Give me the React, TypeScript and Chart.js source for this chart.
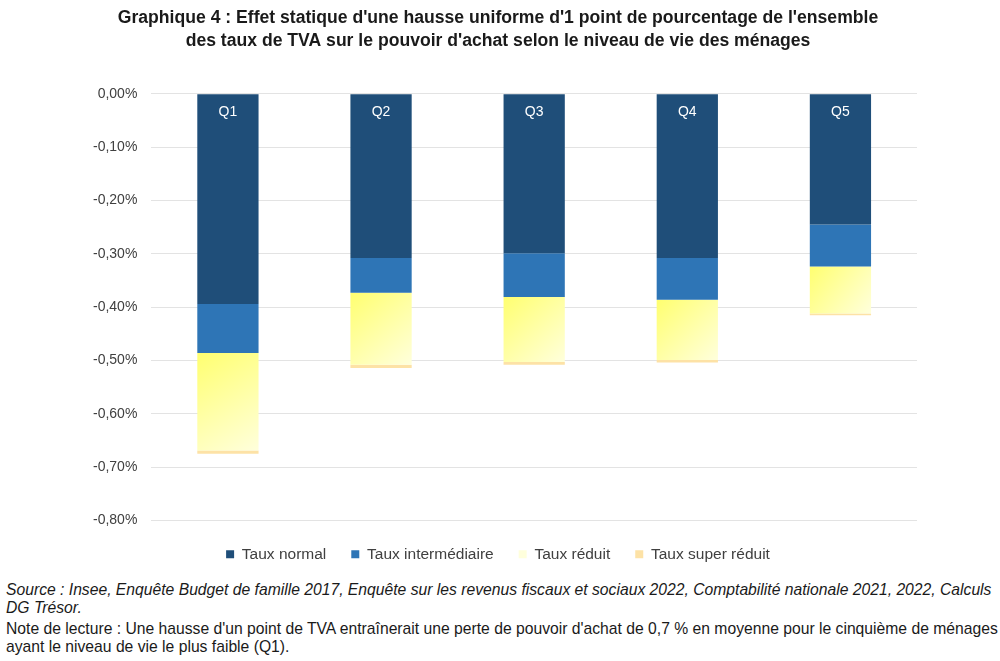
import React, { useEffect, useRef } from "react";
import { Chart, registerables } from "chart.js";

Chart.register(...registerables);

const categories = ["Q1", "Q2", "Q3", "Q4", "Q5"];
const tauxNormal = [-0.394, -0.308, -0.299, -0.308, -0.245];
const tauxIntermediaire = [-0.092, -0.065, -0.082, -0.078, -0.079];
const tauxReduit = [-0.183, -0.135, -0.122, -0.113, -0.088];
const tauxSuperReduit = [-0.006, -0.006, -0.005, -0.005, -0.003];
const yTickValues = [0, -0.1, -0.2, -0.3, -0.4, -0.5, -0.6, -0.7, -0.8];
const yTickLabels = ["0,00%", "-0,10%", "-0,20%", "-0,30%", "-0,40%", "-0,50%", "-0,60%", "-0,70%", "-0,80%"];
const seriesNames = ["Taux normal", "Taux intermédiaire", "Taux réduit", "Taux super réduit"];
const titleLines = [
  "Graphique 4 : Effet statique d'une hausse uniforme d'1 point de pourcentage de l'ensemble",
  "des taux de TVA sur le pouvoir d'achat selon le niveau de vie des ménages",
];

const FONT = "'Liberation Sans', Arial, sans-serif";

const reduitGradient = (ctx: any) => {
  const chart = ctx.chart;
  const xs = chart.scales?.x;
  const ys = chart.scales?.y;
  if (!xs || !ys || ctx.type !== "data") return "#FFFFA6";
  const i = ctx.dataIndex;
  const top = tauxNormal[i] + tauxIntermediaire[i];
  const bottom = top + tauxReduit[i];
  const cx = xs.getPixelForValue(i);
  const w = 0.4 * (xs.width / categories.length);
  const y0 = ys.getPixelForValue(top);
  const y1 = ys.getPixelForValue(bottom);
  if (!isFinite(cx) || !isFinite(y0) || !isFinite(y1)) return "#FFFFA6";
  const g = chart.ctx.createLinearGradient(cx - w / 2, y0, cx + w / 2, y1);
  g.addColorStop(0, "#FFFF70");
  g.addColorStop(1, "#FFFFDC");
  return g;
};

const qLabelsPlugin = {
  id: "qLabels",
  afterDatasetsDraw(chart: any) {
    const xs = chart.scales.x;
    const ys = chart.scales.y;
    const ctx = chart.ctx;
    ctx.save();
    ctx.fillStyle = "#FFFFFF";
    ctx.font = `14px ${FONT}`;
    ctx.textAlign = "center";
    ctx.textBaseline = "middle";
    categories.forEach((c, i) => {
      ctx.fillText(c, xs.getPixelForValue(i), ys.getPixelForValue(0) + 18);
    });
    ctx.restore();
  },
};

export default function App() {
  const ref = useRef<HTMLCanvasElement | null>(null);
  useEffect(() => {
    if (!ref.current) return;
    const chart = new Chart(ref.current, {
      type: "bar",
      data: {
        labels: categories,
        datasets: [
          { label: seriesNames[0], data: tauxNormal, backgroundColor: "#1F4E79" },
          { label: seriesNames[1], data: tauxIntermediaire, backgroundColor: "#2E75B6" },
          { label: seriesNames[2], data: tauxReduit, backgroundColor: reduitGradient as any },
          { label: seriesNames[3], data: tauxSuperReduit, backgroundColor: "#FDE2A6" },
        ],
      },
      options: {
        animation: false,
        responsive: false,
        maintainAspectRatio: false,
        datasets: { bar: { barPercentage: 0.4, categoryPercentage: 1 } },
        layout: { padding: { left: 79, right: 83, top: 5, bottom: 0 } },
        scales: {
          x: {
            stacked: true,
            display: true,
            ticks: { display: false },
            grid: { display: false },
            border: { display: false },
            afterFit: (scale: any) => {
              scale.height = 1;
            },
          },
          y: {
            stacked: true,
            min: -0.8,
            max: 0,
            afterBuildTicks: (scale: any) => {
              scale.ticks = yTickValues.map((v) => ({ value: v }));
            },
            ticks: {
              padding: 14,
              color: "#404040",
              font: { family: FONT, size: 14 },
              callback: (v: any) => {
                const idx = yTickValues.findIndex((t) => Math.abs(t - Number(v)) < 1e-9);
                return idx >= 0 ? yTickLabels[idx] : "";
              },
            },
            grid: { color: "#E3E3E3", lineWidth: 1, drawTicks: false },
            border: { display: false },
          },
        },
        plugins: {
          title: {
            display: true,
            text: titleLines,
            color: "#1A1A1A",
            font: { family: FONT, size: 17.6, weight: "bold", lineHeight: 1.3 },
            padding: { top: 2, bottom: 41 },
          },
          legend: {
            position: "bottom",
            labels: {
              boxWidth: 8,
              boxHeight: 8,
              padding: 25,
              color: "#404040",
              font: { family: FONT, size: 15.5 },
            },
          },
          tooltip: { enabled: false },
        },
      },
      plugins: [qLabelsPlugin],
    });
    return () => chart.destroy();
  }, []);

  const footStyle: React.CSSProperties = {
    position: "absolute",
    left: 6,
    fontFamily: FONT,
    fontSize: 15.7,
    color: "#1A1A1A",
    whiteSpace: "nowrap",
    lineHeight: "18px",
  };

  return (
    <div style={{ position: "absolute", left: 0, top: 0, width: 1000, height: 661, background: "#fff" }}>
      <canvas ref={ref} width={1000} height={572} style={{ position: "absolute", left: 0, top: 0 }} />
      <div style={{ ...footStyle, top: 581, fontStyle: "italic" }}>
        Source : Insee, Enquête Budget de famille 2017, Enquête sur les revenus fiscaux et sociaux 2022, Comptabilité nationale 2021, 2022, Calculs
        <br />
        DG Trésor.
      </div>
      <div style={{ ...footStyle, top: 620 }}>
        Note de lecture : Une hausse d'un point de TVA entraînerait une perte de pouvoir d'achat de 0,7 % en moyenne pour le cinquième de ménages
        <br />
        ayant le niveau de vie le plus faible (Q1).
      </div>
    </div>
  );
}
